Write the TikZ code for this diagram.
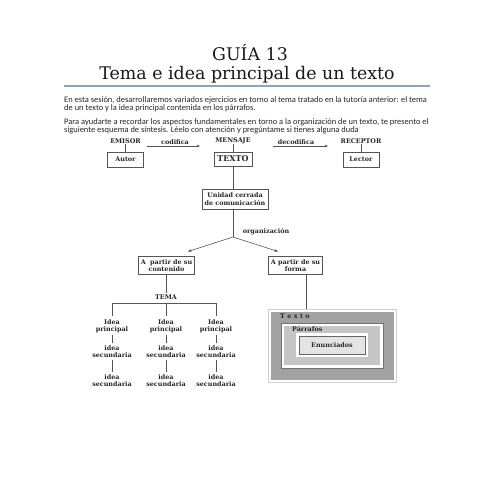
\documentclass[tikz,border=0pt]{standalone}
\usepackage{fontspec}
\usetikzlibrary{arrows.meta,calc}
\newfontfamily\titlefont{DejaVu Serif}
\newfontfamily\bodyfont{Carlito}
\newfontfamily\diafont{DejaVu Serif}
\definecolor{rulecol}{HTML}{8EA3BA}
\definecolor{ink}{HTML}{262626}
\definecolor{boxline}{HTML}{555555}
\definecolor{rimcol}{HTML}{D0D0D0}
\definecolor{darkfill}{HTML}{A2A2A2}
\definecolor{midfill}{HTML}{C6C6C6}
\definecolor{innerfill}{HTML}{E4E4E4}
\begin{document}
\begin{tikzpicture}[x=1pt,y=-1pt,
  lab/.style={font=\diafont\bfseries\fontsize{6.4}{7.3}\selectfont, text=ink, inner sep=0pt, align=center},
  tlab/.style={lab, inner sep=2pt},
  bx/.style={lab, draw=boxline, line width=0.6pt, fill=white},
  ln/.style={draw=boxline, line width=0.6pt},
  arr/.style={ln, -{Stealth[length=3.4pt,width=2.8pt]}},
  para/.style={font=\bodyfont\fontsize{8.45}{8}\selectfont, anchor=base west, inner sep=0pt, text=ink}]
\useasboundingbox (0,0) rectangle (495,495);
\fill[white] (0,0) rectangle (495,495);

% title
\node[font=\titlefont\fontsize{17.4}{20}\selectfont, text=black!90] (t1) at (250,52.5) {GUÍA 13};
\node[font=\titlefont\fontsize{17.4}{20}\selectfont, text=black!90] (t2) at (247,75) {Tema e idea principal de un texto};
\draw[rulecol, line width=1.4pt] (64,86) -- (430,86);

% paragraphs
\node[para] (p1) at (64,102) {En esta sesión, desarrollaremos variados ejercicios en torno al tema tratado en la tutoría anterior: el tema};
\node[para] (p2) at (64,110) {de un texto y la idea principal contenida en los párrafos.};
\node[para] (p3) at (64,124.5) {Para ayudarte a recordar los aspectos fundamentales en torno a la organización de un texto, te presento el};
\node[para] (p4) at (64,132.5) {siguiente esquema de síntesis. Léelo con atención y pregúntame si tienes alguna duda};

% top row
\node[lab] (emisor) at (125.5,141) {EMISOR};
\node[bx, minimum width=36, minimum height=15] (autor) at (125.5,159.5) {Autor};
\node[lab] (mensaje) at (233,141) {MENSAJE};
\node[bx, minimum width=38, minimum height=14, font=\diafont\bfseries\fontsize{8}{9}\selectfont] (texto) at (233,159) {TEXTO};
\node[lab] (receptor) at (361,141) {RECEPTOR};
\node[bx, minimum width=36, minimum height=15] (lector) at (361,159.5) {Lector};
\draw[ln] (emisor) -- (autor);
\draw[ln] (mensaje) -- (texto);
\draw[ln] (receptor) -- (lector);

\coordinate (a1s) at (147,146);
\coordinate (a1e) at (200,146);
\coordinate (a2s) at (273,146);
\coordinate (a2e) at (328,146);
\draw[arr] (a1s) -- (a1e);
\draw[arr] (a2s) -- (a2e);
\node[lab] (cod) at (175,142) {codifica};
\node[lab] (decod) at (296,142) {decodifica};

% unidad
\node[bx, minimum width=66, minimum height=20] (unidad) at (235,199) {Unidad cerrada\\de comunicación};
\draw[ln] (texto.south) -- (texto.south |- unidad.north);
\coordinate (br) at (233,237);
\draw[ln] (br |- unidad.south) -- (br);
\node[lab] (org) at (266,232) {organización};
\coordinate (c1) at (188,251.5);
\coordinate (c2) at (278,251.5);
\draw[arr] (br) -- (c1);
\draw[arr] (br) -- (c2);

\node[bx, minimum width=56, minimum height=18] (cont) at (166.5,265.5) {A\ \ partir de su\\contenido};
\node[bx, minimum width=54, minimum height=18] (forma) at (295.5,265.5) {A partir de su\\forma};

% tema tree
\node[lab] (tema) at (166,297) {TEMA};
\coordinate (tx) at (166,0);
\draw[ln] (cont.south -| tx) -- ([yshift=1.5pt]tema.north -| tx);
\coordinate (h1) at (112,303);
\coordinate (h2) at (166,303);
\coordinate (h3) at (216,303);
\node[tlab] (ip1) at (112,326) {Idea\\principal};
\node[tlab] (ip2) at (166,326) {Idea\\principal};
\node[tlab] (ip3) at (216,326) {Idea\\principal};
\draw[ln] ([yshift=1.5pt]h1 |- ip1.north) -- (h1) -- (h3) -- ([yshift=1.5pt]h3 |- ip3.north);
\draw[ln] (h2) -- ([yshift=1.5pt]h2 |- ip2.north);
\foreach \c in {1,2,3}{
  \node[tlab] (isa\c) at ($(ip\c)+(0,25.5)$) {idea\\secundaria};
  \node[tlab] (isb\c) at ($(ip\c)+(0,54.5)$) {idea\\secundaria};
  \draw[ln] (ip\c) -- (isa\c);
  \draw[ln] (isa\c) -- (isb\c);
}

% forma nested boxes
\node[draw=rimcol, fill=white, line width=0.8pt, minimum width=128, minimum height=73, inner sep=0pt] (outer) at (332,345.5) {};
\fill[darkfill] (270.5,311.5) rectangle (393.5,379.5);
\coordinate (fx) at (306,0);
\draw[ln] (forma.south -| fx) -- (outer.north -| fx);
\draw[draw=black!55, fill=white, line width=0.6pt] (281,323) rectangle (383,368);
\fill[midfill] (284,326) rectangle (380,365);
\fill[white] (296,333) rectangle (368,357);
\draw[draw=black!60, fill=innerfill, line width=0.6pt] (299,336) rectangle (365,354);
\node[lab, anchor=west] (lt) at (280,316) {T\hspace{2.4pt}e\hspace{2.4pt}x\hspace{2.4pt}t\hspace{2.4pt}o};
\node[lab, anchor=west] (lp) at (292,329) {Párrafos};
\node[lab] (le) at (332,345.5) {Enunciados};
\end{tikzpicture}
\end{document}
